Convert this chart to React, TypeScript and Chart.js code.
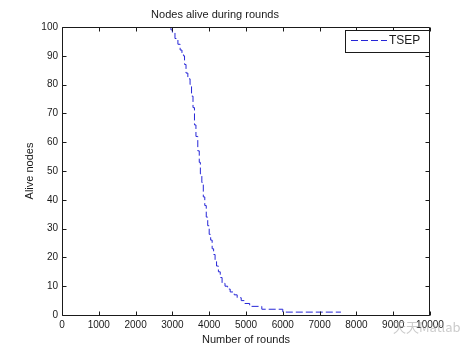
import React, { useEffect, useRef } from 'react';
import { Chart, registerables } from 'chart.js';

Chart.register(...registerables);

// ---- data ----
const rounds = [
  2960, 3000, 3070, 3150, 3210, 3260, 3300, 3330, 3370, 3420, 3480, 3520, 3560, 3600,
  3640, 3690, 3730, 3760, 3800, 3840, 3880, 3920, 3960, 4000, 4040, 4080, 4120, 4160,
  4200, 4250, 4300, 4350, 4430, 4500, 4570, 4680, 4760, 4870, 4970, 5100, 5430, 6000, 7580,
];
const alive = [
  100, 99, 98, 96, 94, 92, 91, 90, 87, 84, 82, 80, 76, 72,
  66, 62, 57, 53, 49, 46, 41, 38, 34, 31, 28, 26, 23, 21,
  19, 17, 15, 13, 11, 10, 9, 8, 7, 6, 5, 4, 3, 2, 1,
];
const xTicks = [0, 1000, 2000, 3000, 4000, 5000, 6000, 7000, 8000, 9000, 10000];
const yTicks = [0, 10, 20, 30, 40, 50, 60, 70, 80, 90, 100];
const seriesLabel = 'TSEP';
const titleText = 'Nodes alive during rounds';
const xTitleText = 'Number of rounds';
const yTitleText = 'Alive nodes';
const watermarkText = '天天Matlab';

const FONT = 'Liberation Sans, Arial, Helvetica, sans-serif';
const INK = '#1a1a1a';
const LINE = 'rgb(38,38,215)';
const DASH = [7, 3];

const boxPlugin = {
  id: 'matlabBox',
  afterDraw(chart: any) {
    const { ctx, chartArea: a, scales } = chart;
    const x = scales.x;
    const y = scales.y;
    const L = Math.round(a.left) + 0.5;
    const R = Math.round(a.right) - 0.5;
    const T = Math.round(a.top) + 0.5;
    const B = Math.round(a.bottom) + 0.5;
    ctx.save();
    ctx.strokeStyle = INK;
    ctx.lineWidth = 1;
    ctx.setLineDash([]);
    ctx.beginPath();
    ctx.rect(L, T, R - L, B - T);
    const tl = 4;
    x.ticks.forEach((t: any) => {
      const px = Math.round(x.getPixelForValue(t.value)) + 0.5;
      ctx.moveTo(px, B);
      ctx.lineTo(px, B - tl);
      ctx.moveTo(px, T);
      ctx.lineTo(px, T + tl);
    });
    y.ticks.forEach((t: any) => {
      const py = Math.round(y.getPixelForValue(t.value)) + 0.5;
      ctx.moveTo(L, py);
      ctx.lineTo(L + tl, py);
      ctx.moveTo(R, py);
      ctx.lineTo(R - tl, py);
    });
    ctx.stroke();

    // legend box
    const ds = chart.data.datasets[0];
    const bx = 345.5, by = 30.5, bw = 84, bh = 22;
    ctx.fillStyle = '#fff';
    ctx.fillRect(bx, by, bw, bh);
    ctx.strokeRect(bx, by, bw, bh);
    ctx.strokeStyle = ds.borderColor;
    ctx.setLineDash(ds.borderDash);
    ctx.beginPath();
    ctx.moveTo(351, 40.5);
    ctx.lineTo(387, 40.5);
    ctx.stroke();
    ctx.setLineDash([]);
    ctx.fillStyle = INK;
    ctx.font = `12px ${FONT}`;
    ctx.textAlign = 'left';
    ctx.textBaseline = 'middle';
    ctx.fillText(ds.label, 389, 41);

    // watermark
    ctx.fillStyle = 'rgba(160,160,160,0.55)';
    ctx.font = `13px "Noto Sans CJK SC", ${FONT}`;
    ctx.fillText(watermarkText, 393, 327);
    ctx.restore();
  },
};

export default function App() {
  const ref = useRef<HTMLCanvasElement | null>(null);

  useEffect(() => {
    if (!ref.current) return;
    const points = rounds.map((r, i) => ({ x: r, y: alive[i] }));
    const chart = new Chart(ref.current, {
      type: 'line',
      data: {
        datasets: [
          {
            label: seriesLabel,
            data: points,
            borderColor: LINE,
            borderWidth: 1,
            borderDash: DASH,
            pointRadius: 0,
            fill: false,
            stepped: 'after',
          } as any,
        ],
      },
      plugins: [boxPlugin],
      options: {
        responsive: false,
        animation: false,
        devicePixelRatio: 1,
        layout: { padding: { left: 0, right: 44, top: 0, bottom: 0 } },
        plugins: {
          legend: { display: false },
          tooltip: { enabled: false },
          title: {
            display: true,
            text: titleText,
            color: INK,
            font: { family: FONT, size: 11, weight: 'normal', lineHeight: '13px' } as any,
            padding: { top: 8, bottom: 6 },
          },
        },
        scales: {
          x: {
            type: 'linear',
            min: 0,
            max: 10000,
            afterBuildTicks: (s: any) => {
              s.ticks = xTicks.map((v) => ({ value: v }));
            },
            afterFit: (s: any) => {
              s.height = 39;
            },
            grid: { display: false, drawTicks: false },
            border: { display: false },
            ticks: {
              color: INK,
              font: { family: FONT, size: 10 },
              padding: 4,
              maxRotation: 0,
              autoSkip: false,
              callback: (v: any) => String(v),
            },
            title: {
              display: true,
              text: xTitleText,
              color: INK,
              font: { family: FONT, size: 11, lineHeight: '13px' } as any,
              padding: { top: 0, bottom: 8 },
            },
          },
          y: {
            type: 'linear',
            min: 0,
            max: 100,
            afterBuildTicks: (s: any) => {
              s.ticks = yTicks.map((v) => ({ value: v }));
            },
            afterFit: (s: any) => {
              s.width = 62;
            },
            grid: { display: false, drawTicks: false },
            border: { display: false },
            ticks: {
              color: INK,
              font: { family: FONT, size: 10 },
              padding: 4,
              autoSkip: false,
              callback: (v: any) => String(v),
            },
            title: {
              display: true,
              text: yTitleText,
              color: INK,
              font: { family: FONT, size: 11, lineHeight: '13px' } as any,
              padding: { top: 23, bottom: 0 },
            },
          },
        },
      } as any,
    });
    return () => chart.destroy();
  }, []);

  return (
    <div style={{ position: 'fixed', left: 0, top: 0, width: 474, height: 354, background: '#fff' }}>
      <canvas ref={ref} width={474} height={354} />
    </div>
  );
}
